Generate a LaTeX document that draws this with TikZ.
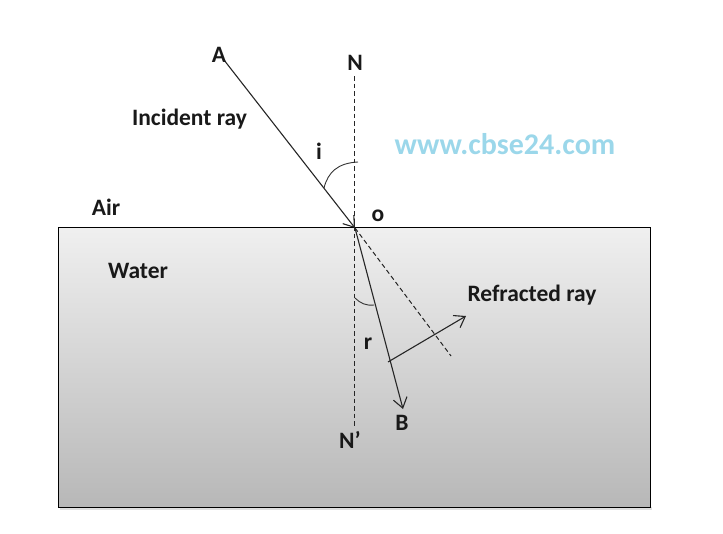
\documentclass[tikz,border=0pt]{standalone}
\usepackage{fontspec}
\setmainfont{Carlito}
\usetikzlibrary{arrows.meta}
\definecolor{wmark}{HTML}{9BD7EA}
\tikzset{
  lbl/.style={font=\fontsize{23.5}{25}\selectfont\bfseries, text=black!90, inner sep=0pt},
  ray/.style={line width=1.1pt, draw=black!85},
  tipped/.style={ray, -{Straight Barb[length=10pt,width=14pt,line width=1.1pt]}},
  guide/.style={line width=1pt, draw=black!85, dash pattern=on 4.5pt off 3pt},
  arcline/.style={line width=0.9pt, draw=black!80},
}
\begin{document}
\begin{tikzpicture}[x=1pt,y=-1pt]
\useasboundingbox (0,0) rectangle (723,533);
% water
\fill[black!12] (60,507) rectangle (652,510);
\shade[top color=black!6, bottom color=black!28, draw=black, line width=0.9pt] (58,227) rectangle (650,507);
% points
\coordinate (Apt) at (224,60);
\coordinate (O) at (355,228);
\coordinate (Ntop) at (354.5,76);
\coordinate (Nbot) at (354.5,428);
\coordinate (Bpt) at (403,409);
\coordinate (Dend) at (451,356);
\coordinate (Rstart) at (388,362);
\coordinate (Rend) at (466,316);
% guides
\draw[guide] (Ntop) -- (Nbot);
\draw[guide] (O) -- (Dend);
% rays
\draw[tipped] (Apt) -- (O);
\draw[tipped] (O) -- (Bpt);
\draw[tipped] (Rstart) -- (Rend);
% angle marks
\draw[arcline] (324,188) .. controls (328,172) and (338,163) .. (358,162);
\draw[arcline] (355,298) .. controls (360,303) and (366,306) .. (374,305);
% labels
\node[lbl] (la) at (219,55) {A};
\node[lbl] (ln) at (355,63) {N};
\node[lbl] (li) at (319,151) {i};
\node[lbl] (linc) at (189.5,119) {Incident ray};
\node[lbl] (lair) at (106,207) {Air};
\node[lbl] (lo) at (378,216) {o};
\node[lbl] (lw) at (138,271) {Water};
\node[lbl] (lr) at (368,344) {r};
\node[lbl] (lb) at (402,423) {B};
\node[lbl] (lnp) at (350,440) {N’};
\node[lbl] (lref) at (532,295) {Refracted ray};
\node[inner sep=0pt, text=wmark, font=\fontsize{30}{32}\selectfont\bfseries] (lweb) at (505,144) {www.cbse24.com};
\end{tikzpicture}
\end{document}
